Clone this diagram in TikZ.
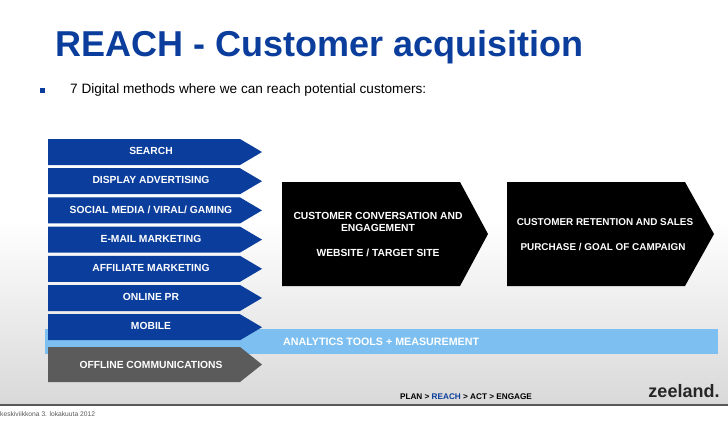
\documentclass[tikz,border=0pt]{standalone}
\usepackage{fontspec}
\setmainfont{Liberation Sans}
\definecolor{dblue}{HTML}{0B3E9C}
\definecolor{lblue}{HTML}{7CBFF0}
\definecolor{ogray}{HTML}{5B5B5B}
\begin{document}
\begin{tikzpicture}[x=1pt,y=-1pt,
  lab/.style={font=\bfseries\fontsize{10.3}{12}\selectfont,white,align=center}]
\useasboundingbox (0,0) rectangle (728,421);
\fill[white] (0,0) rectangle (728,220);
\shade[top color=white,bottom color=gray!30] (0,220) rectangle (728,404);
\fill[gray!70!black] (0,404) rectangle (728,406);
\fill[white] (0,406) rectangle (728,421);
\node[anchor=west,font=\fontsize{6.7}{7}\selectfont,text=gray!70!black,inner sep=0pt] (date) at (0,414) {keskiviikkona 3. lokakuuta 2012};
\node[anchor=west,font=\bfseries\fontsize{36}{38}\selectfont,text=dblue,inner sep=0pt] (title) at (55,47) {REACH - Customer acquisition};
\node[fill=dblue,minimum size=5pt,inner sep=0pt] (bul) at (42,90) {};
\node[anchor=west,font=\fontsize{13.6}{15}\selectfont,inner sep=0pt] (sub) at (70,90) {7 Digital methods where we can reach potential customers:};
% analytics band
\fill[lblue] (45,329) rectangle (718,354);
\node[anchor=west,lab,font=\bfseries\fontsize{10.7}{12}\selectfont,inner sep=0pt] (an) at (283,342) {ANALYTICS TOOLS + MEASUREMENT};
% blue arrows
\foreach \t [count=\i from 0] in {SEARCH,DISPLAY ADVERTISING,SOCIAL MEDIA / VIRAL/ GAMING,E-MAIL MARKETING,AFFILIATE MARKETING,ONLINE PR,MOBILE}{
  \pgfmathsetmacro{\yt}{139+29.2*\i}
  \fill[dblue] (48,\yt) -- (240,\yt) -- (262,\yt+13) -- (240,\yt+26) -- (48,\yt+26) -- cycle;
  \node[lab] (b\i) at (151,\yt+12) {\t};
}
\fill[ogray] (48,347) -- (240,347) -- (262,364.5) -- (240,382) -- (48,382) -- cycle;
\node[lab] (off) at (151,364.5) {OFFLINE COMMUNICATIONS};
% black arrows
\fill[black] (282,182) -- (460,182) -- (488,234) -- (460,286) -- (282,286) -- cycle;
\node[lab] (c1) at (378,222) {CUSTOMER CONVERSATION AND\\ENGAGEMENT};
\node[lab] (c2) at (378,253) {WEBSITE / TARGET SITE};
\fill[black] (507,182) -- (685,182) -- (714,234) -- (685,286) -- (507,286) -- cycle;
\node[lab,font=\bfseries\fontsize{9.9}{12}\selectfont] (r1) at (605,222) {CUSTOMER RETENTION AND SALES};
\node[lab,font=\bfseries\fontsize{9.9}{12}\selectfont] (r2) at (603,247) {PURCHASE / GOAL OF CAMPAIGN};
% footer
\node[font=\bfseries\fontsize{8.2}{9}\selectfont] (pl) at (466,397) {PLAN > \textcolor{dblue}{REACH} > ACT > ENGAGE};
\node[font=\bfseries\fontsize{18}{20}\selectfont,text=black!85] (zl) at (684,391) {zeeland.};
\end{tikzpicture}
\end{document}
